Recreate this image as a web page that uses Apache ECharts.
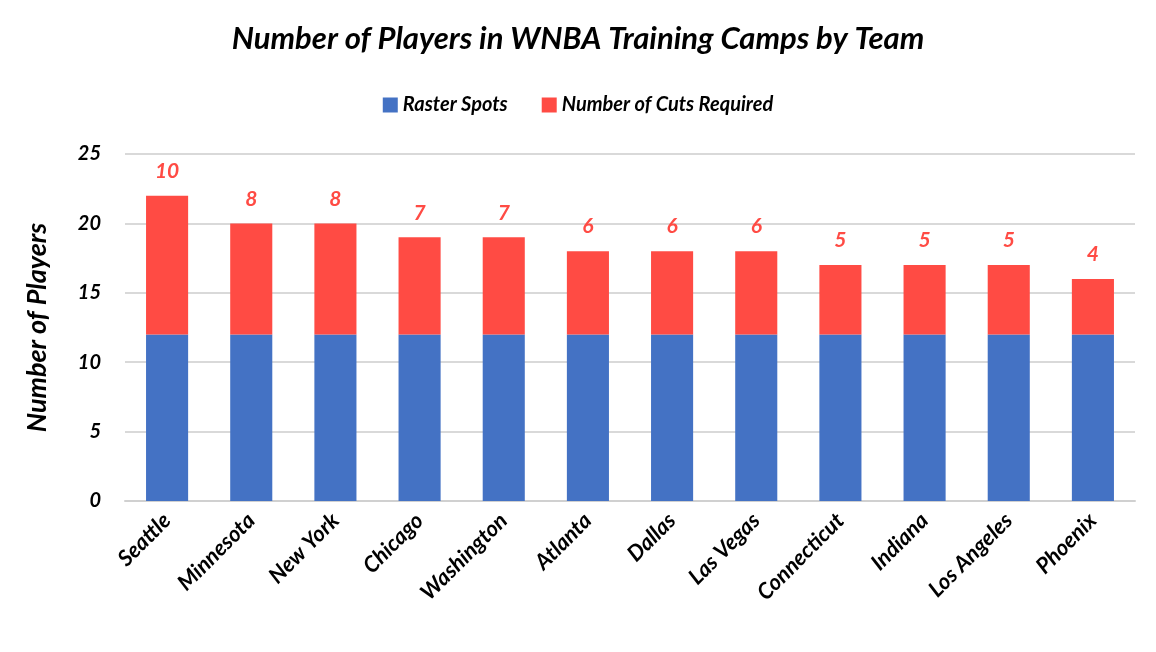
<!DOCTYPE html>
<html style="height: 100%">
<head>
<meta charset="utf-8">
<title>WNBA Training Camps</title>
<script src="https://cdn.jsdelivr.net/npm/echarts@6/dist/echarts.min.js"></script>
</head>
<body style="margin: 0">
<div id="container" style="height: 652px; width: 1156px;"></div>
<script type="text/javascript">
var teams = ['Seattle', 'Minnesota', 'New York', 'Chicago', 'Washington', 'Atlanta', 'Dallas', 'Las Vegas', 'Connecticut', 'Indiana', 'Los Angeles', 'Phoenix'];
var rosterSpots = [12, 12, 12, 12, 12, 12, 12, 12, 12, 12, 12, 12];
var cutsRequired = [10, 8, 8, 7, 7, 6, 6, 6, 5, 5, 5, 4];

var font = 'Lato';
var myChart = echarts.init(document.getElementById('container'));

var option = {
    backgroundColor: '#ffffff',
    textStyle: { fontFamily: font },
    title: {
        text: 'Number of Players in WNBA Training Camps by Team',
        left: 'center',
        top: 18,
        textStyle: { fontSize: 31, fontWeight: 'bold', fontStyle: 'italic', color: '#000', fontFamily: font }
    },
    legend: {
        top: 90,
        left: 'center',
        itemWidth: 15,
        itemHeight: 15,
        itemGap: 34,
        icon: 'rect',
        textStyle: { fontSize: 20, fontWeight: 'bold', fontStyle: 'italic', color: '#000', fontFamily: font },
        data: ['Raster Spots', 'Number of Cuts Required']
    },
    grid: { left: 125, right: 21, top: 154, bottom: 151 },
    xAxis: {
        type: 'category',
        data: teams,
        axisLine: { lineStyle: { color: '#d0d0d0', width: 2 } },
        axisTick: { show: false },
        axisLabel: {
            rotate: 45,
            margin: 16,
            fontSize: 22,
            fontWeight: 'bold',
            fontStyle: 'italic',
            color: '#000',
            fontFamily: font
        }
    },
    yAxis: {
        type: 'value',
        min: 0,
        max: 25,
        interval: 5,
        name: 'Number of Players',
        nameLocation: 'middle',
        nameGap: 74,
        nameTextStyle: { fontSize: 27, fontWeight: 'bold', fontStyle: 'italic', color: '#000', fontFamily: font },
        axisLine: { show: false },
        axisTick: { show: false },
        splitLine: { lineStyle: { color: '#d9d9d9', width: 2 } },
        axisLabel: { margin: 24, fontSize: 20, fontWeight: 'bold', fontStyle: 'italic', color: '#000', fontFamily: font }
    },
    series: [{
        name: 'Raster Spots',
        type: 'bar',
        stack: 'total',
        barWidth: '50%',
        itemStyle: { color: '#4472c4' },
        data: rosterSpots
    }, {
        name: 'Number of Cuts Required',
        type: 'bar',
        stack: 'total',
        itemStyle: { color: '#ff4b44' },
        label: {
            show: true,
            position: 'top',
            distance: 14,
            fontSize: 21,
            fontWeight: 'bold',
            fontStyle: 'italic',
            color: '#ff4b44',
            fontFamily: font
        },
        data: cutsRequired
    }]
};
myChart.setOption(option);
</script>
</body>
</html>
